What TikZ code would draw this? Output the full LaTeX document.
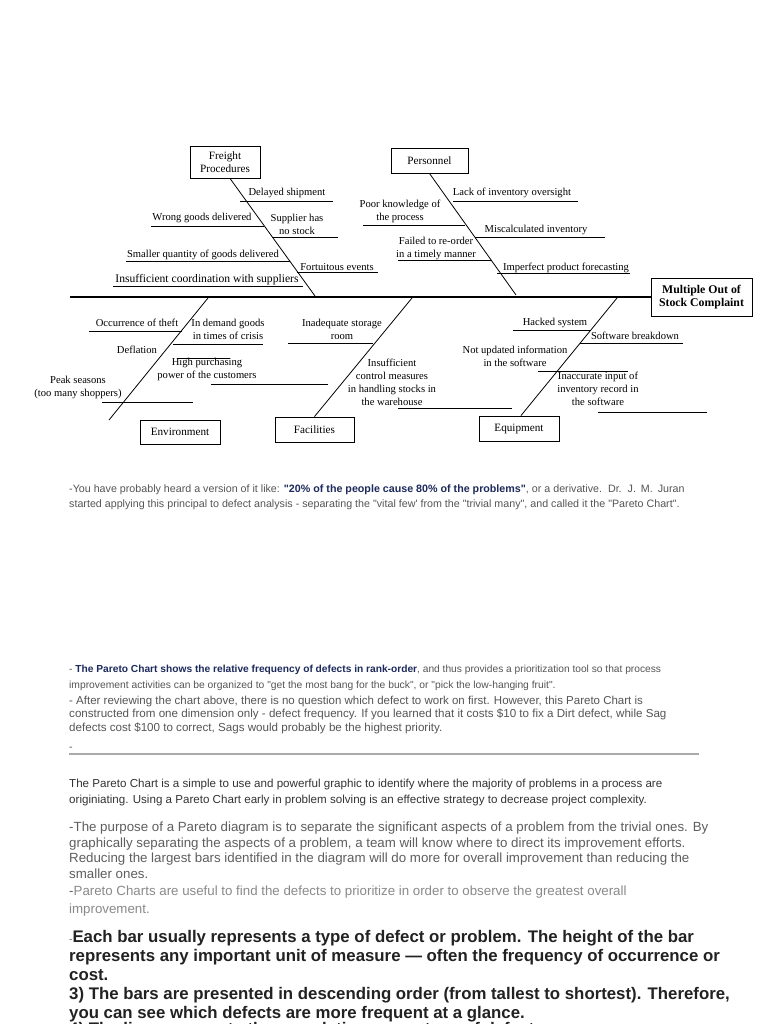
\documentclass[tikz,border=0pt]{standalone}
\usepackage{fontspec}
\setmainfont{Liberation Serif}
\newfontfamily\arialf{Liberation Sans}
\definecolor{txtgray}{HTML}{555555}
\definecolor{navy}{HTML}{1C2A5C}
\definecolor{txtdark}{HTML}{333333}
\definecolor{txtmid}{HTML}{5E5E5E}
\definecolor{txtlight}{HTML}{8A8A8A}
\definecolor{txtblack}{HTML}{222222}
\definecolor{rulegray}{HTML}{AAAAAA}
\begin{document}
\begin{tikzpicture}[x=1pt,y=-1pt,
  box/.style={draw=black, line width=0.9pt, inner sep=1pt, align=center, font=\fontsize{11.2}{13}\selectfont},
  lbl/.style={inner sep=0pt, align=center, font=\fontsize{10.6}{13}\selectfont},
  uline/.style={line width=0.7pt},
  bone/.style={line width=0.8pt},
  body/.style={anchor=base west, inner sep=0pt, font=\arialf\fontsize{10.7}{12}\selectfont},
]
\useasboundingbox (0,0) rectangle (768,1024);
\fill[white] (0,0) rectangle (768,1024);

% ---------------- boxes ----------------
\node[box, minimum width=70, minimum height=32] (freight) at (225,162) {Freight\\Procedures};
\node[box, minimum width=77, minimum height=25] (personnel) at (429.5,160.5) {Personnel};
\node[box, minimum width=101, minimum height=38, font=\bfseries\fontsize{11.8}{13.5}\selectfont] (effect) at (701.5,297) {Multiple Out of\\Stock Complaint};
\node[box, minimum width=80, minimum height=24] (environment) at (180,432) {Environment};
\node[box, minimum width=79, minimum height=25] (facilities) at (314.5,429.5) {Facilities};
\node[box, minimum width=80, minimum height=25] (equipment) at (519,428.5) {Equipment};

% ---------------- spine and bones ----------------
\coordinate (tail) at (70,297);
\draw[line width=2pt] (tail) -- (effect.west);
\coordinate (fjoin) at (315,296);
\coordinate (pjoin) at (516,295);
\coordinate (ejoin) at (208,298);
\coordinate (eend) at (109,420);
\coordinate (fajoin) at (412,298);
\coordinate (qjoin) at (617,298);
\draw[bone] ([xshift=5]freight.south) -- (fjoin);
\draw[bone] (personnel.south) -- (pjoin);
\draw[bone] (ejoin) -- (eend);
\draw[bone] (fajoin) -- (facilities.north);
\draw[bone] (qjoin) -- ([xshift=2]equipment.north);

% ---------------- Freight causes ----------------
\node[lbl] (f1) at (287,193) {Delayed shipment};
\draw[uline] (240,201) -- (333,201);
\node[lbl] (f2) at (202,218) {Wrong goods delivered};
\draw[uline] (151,226) -- (264,226);
\node[lbl] (f3) at (297,224.5) {Supplier has\\no stock};
\draw[uline] (272,237) -- (338,237);
\node[lbl] (f4) at (203,255) {Smaller quantity of goods delivered};
\draw[uline] (126,261) -- (290,261);
\node[lbl] (f5) at (337,267) {Fortuitous events};
\draw[uline] (297,272.5) -- (378,272.5);
\node[lbl, font=\fontsize{11.6}{13}\selectfont] (f6) at (207,280) {Insufficient coordination with suppliers};
\draw[uline] (113,286) -- (303,286);

% ---------------- Personnel causes ----------------
\node[lbl] (p1) at (512,193) {Lack of inventory oversight};
\draw[uline] (453,201) -- (578,201);
\node[lbl] (p2) at (400,211.5) {Poor knowledge of\\the process};
\draw[uline] (363,225) -- (465,225);
\node[lbl] (p3) at (536,230) {Miscalculated inventory};
\draw[uline] (475,237) -- (605,237);
\node[lbl] (p4) at (436,248.5) {Failed to re-order\\in a timely manner};
\draw[uline] (398,260) -- (492,260);
\node[lbl] (p5) at (566,268) {Imperfect product forecasting};
\draw[uline] (497,273.5) -- (630,273.5);

% ---------------- Environment causes ----------------
\node[lbl] (e1) at (137,323) {Occurrence of theft};
\draw[uline] (89,331) -- (182,331);
\node[lbl] (e2) at (228,329.5) {In demand goods\\in times of crisis};
\draw[uline] (173,344) -- (263,344);
\node[lbl] (e3) at (137,350) {Deflation};
\node[lbl] (e4) at (207,369.5) {High purchasing\\power of the customers};
\draw[uline] (177,358) -- (230,358);
\draw[uline] (211,384) -- (328,384);
\node[lbl] (e5) at (78,387.5) {Peak seasons\\(too many shoppers)};
\draw[uline] (102,402) -- (193,402);

% ---------------- Facilities causes ----------------
\node[lbl] (a1) at (342,329.5) {Inadequate storage\\room};
\draw[uline] (288,343) -- (373,343);
\node[lbl] (a2) at (392,382) {Insufficient\\control measures\\in handling stocks in\\the warehouse};
\draw[uline] (398,408) -- (512,408);

% ---------------- Equipment causes ----------------
\node[lbl] (q1) at (555,323) {Hacked system};
\draw[uline] (513,330) -- (590,330);
\node[lbl] (q2) at (635,336) {Software breakdown};
\draw[uline] (580,343.5) -- (683,343.5);
\node[lbl] (q3) at (515,356.5) {Not updated information\\in the software};
\draw[uline] (538,371) -- (628,371);
\node[lbl] (q4) at (598,389) {Inaccurate input of\\inventory record in\\the software};
\draw[uline] (598,412) -- (707,412);

% ---------------- text block 1 ----------------
\node[body, text=txtgray] (t1a) at (69,492) {-You have probably heard a version of it like: \textcolor{navy}{\textbf{"20\% of the people cause 80\% of the problems"}}, or a derivative.\hspace{2pt} Dr.\hspace{2pt} J.\hspace{2pt} M.\hspace{2pt} Juran};
\node[body, text=txtgray] (t1b) at (69,507) {started applying this principal to defect analysis - separating the "vital few' from the "trivial many", and called it the "Pareto Chart".};

% ---------------- text block 2 ----------------
\node[body, text=txtgray, font=\arialf\fontsize{10.2}{12}\selectfont] (t2a) at (69,672.5) {- \textcolor{navy}{\textbf{The Pareto Chart shows the relative frequency of defects in rank-order}}, and thus provides a prioritization tool so that process};
\node[body, text=txtgray, font=\arialf\fontsize{10.3}{12}\selectfont] (t2b) at (69,688) {improvement activities can be organized to "get the most bang for the buck", or "pick the low-hanging fruit".};
\node[body, text=txtgray, font=\arialf\fontsize{11.5}{13}\selectfont] (t2c) at (69,704) {- After reviewing the chart above, there is no question which defect to work on first. However, this Pareto Chart is};
\node[body, text=txtgray, font=\arialf\fontsize{11.6}{13}\selectfont] (t2d) at (69,717.5) {constructed from one dimension only - defect frequency. If you learned that it costs \$10 to fix a Dirt defect, while Sag};
\node[body, text=txtgray, font=\arialf\fontsize{11.6}{13}\selectfont] (t2e) at (69,731.5) {defects cost \$100 to correct, Sags would probably be the highest priority.};
\node[body, text=txtgray] (t2f) at (69,750) {-};
\coordinate (rl) at (69,754);
\coordinate (rr) at (699,754);
\draw[rulegray, line width=1.2pt] (rl) -- (rr);

% ---------------- text block 3 ----------------
\node[body, text=txtdark, font=\arialf\fontsize{11.6}{13}\selectfont] (t3a) at (69,787) {The Pareto Chart is a simple to use and powerful graphic to identify where the majority of problems in a process are};
\node[body, text=txtdark, font=\arialf\fontsize{11.6}{13}\selectfont] (t3b) at (69,803) {originiating. Using a Pareto Chart early in problem solving is an effective strategy to decrease project complexity.};

% ---------------- text block 4 ----------------
\tikzset{big/.style={body, text=txtmid, font=\arialf\fontsize{13.3}{15}\selectfont}}
\node[big] (t4a) at (69,831) {-The purpose of a Pareto diagram is to separate the significant aspects of a problem from the trivial ones. By};
\node[big] (t4b) at (69,847) {graphically separating the aspects of a problem, a team will know where to direct its improvement efforts.};
\node[big] (t4c) at (69,862) {Reducing the largest bars identified in the diagram will do more for overall improvement than reducing the};
\node[big] (t4d) at (69,878) {smaller ones.};
\node[big] (t4e) at (69,895) {-\textcolor{txtlight}{Pareto Charts are useful to find the defects to prioritize in order to observe the greatest overall}};
\node[big, text=txtlight] (t4f) at (69,913) {improvement.};

% ---------------- text block 5 ----------------
\tikzset{huge/.style={body, text=txtblack, font=\arialf\bfseries\fontsize{16.8}{19}\selectfont}}
\node[huge] (t5a) at (69,942) {{\mdseries\fontsize{10}{12}\selectfont\color{txtmid}-}Each bar usually represents a type of defect or problem. The height of the bar};
\node[huge] (t5b) at (69,961) {represents any important unit of measure — often the frequency of occurrence or};
\node[huge] (t5c) at (69,980) {cost.};
\node[huge] (t5d) at (69,999.5) {3) The bars are presented in descending order (from tallest to shortest). Therefore,};
\node[huge] (t5e) at (69,1018.5) {you can see which defects are more frequent at a glance.};
\node[huge] (t5f) at (69,1034.5) {4) The line represents the cumulative percentage of defects.};
\end{tikzpicture}
\end{document}
